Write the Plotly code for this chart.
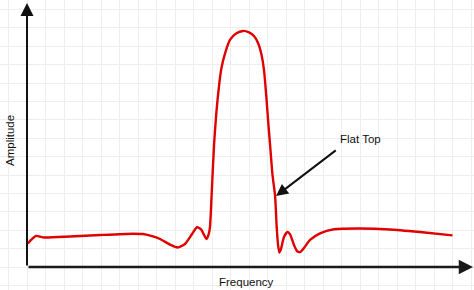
import plotly.graph_objects as go

# Frequency response (arbitrary units; 1 unit = one grid square)
frequency = [0.05, 0.22, 0.49, 0.87, 2.32, 3.95, 5.73, 6.27, 6.81, 7.19, 7.73, 8.14,
             8.54, 8.92, 9.19, 9.41, 9.57, 9.71, 9.81, 9.89, 9.98, 10.11, 10.30, 10.51,
             10.73, 10.97, 11.30, 11.68, 12.00, 12.27, 12.51, 12.68, 12.81, 12.95, 13.05,
             13.14, 13.27, 13.41, 13.50, 13.57, 13.64, 13.73, 13.89, 14.08, 14.22, 14.43,
             14.62, 14.78, 14.97, 15.30, 15.84, 16.60, 18.00, 19.62, 21.24, 23.00]
amplitude = [1.28, 1.47, 1.69, 1.61, 1.66, 1.74, 1.81, 1.79, 1.66, 1.52, 1.22, 1.06,
             1.25, 1.79, 2.16, 2.04, 1.74, 1.52, 1.74, 2.17, 3.91, 6.63, 9.08, 10.82,
             11.69, 12.34, 12.69, 12.83, 12.75, 12.55, 12.12, 11.52, 10.71, 9.08, 7.72,
             6.63, 5.00, 3.86, 2.12, 1.20, 0.78, 0.98, 1.63, 1.90, 1.77, 1.20,
             0.84, 0.82, 1.03, 1.47, 1.83, 2.05, 2.09, 2.04, 1.90, 1.72]

x_label = "Frequency"
y_label = "Amplitude"
note_text = "Flat Top"
note_tip = (13.46, 3.86)
note_tail = (16.77, 6.40)
note_pos = (18.03, 6.96)
x_end = 24.11
y_end = 14.35

W, H = 474, 290
fig = go.Figure()
fig.add_trace(go.Scatter(x=frequency, y=amplitude, mode="lines",
                         line=dict(color="#e00000", width=2.4, shape="spline", smoothing=0.6),
                         hoverinfo="skip", showlegend=False))

grid = "#eeeeee"
fig.update_layout(
    width=W, height=H, margin=dict(l=0, r=0, t=0, b=0),
    paper_bgcolor="white", plot_bgcolor="white",
    font=dict(family="Liberation Sans, Arial", color="#111111", size=11),
    xaxis=dict(range=[-27/18.5, 447/18.5], showgrid=True, gridcolor=grid, gridwidth=1,
               dtick=1, tick0=0, showticklabels=False, zeroline=False, ticks="", fixedrange=True),
    yaxis=dict(range=[-23/18.4, 267/18.4], showgrid=True, gridcolor=grid, gridwidth=1,
               dtick=1, tick0=0, showticklabels=False, zeroline=False, ticks="", fixedrange=True),
    showlegend=False,
)

annots = [
    dict(x=0, y=y_end, ax=0, ay=0, xref="x", yref="y", axref="x", ayref="y", text="",
         showarrow=True, arrowhead=2, arrowsize=1.3, arrowwidth=2, arrowcolor="#111111", standoff=0),
    dict(x=x_end, y=0, ax=0, ay=0, xref="x", yref="y", axref="x", ayref="y", text="",
         showarrow=True, arrowhead=2, arrowsize=1.1, arrowwidth=2.6, arrowcolor="#1a1a1a", standoff=0),
    dict(x=note_tip[0], y=note_tip[1], ax=note_tail[0], ay=note_tail[1], xref="x", yref="y",
         axref="x", ayref="y", text="", showarrow=True, arrowhead=2, arrowsize=1.2,
         arrowwidth=2, arrowcolor="#111111", standoff=0),
    dict(x=note_pos[0], y=note_pos[1], xref="x", yref="y", text=note_text, showarrow=False,
         xanchor="center", yanchor="middle", font=dict(size=11.5)),
    dict(x=10/W, y=1-141/H, xref="paper", yref="paper", text=y_label, showarrow=False,
         textangle=-90, xanchor="center", yanchor="middle", font=dict(size=11.5)),
    dict(x=247/W, y=1-281.5/H, xref="paper", yref="paper", text=x_label, showarrow=False,
         xanchor="center", yanchor="middle", font=dict(size=11.5)),
]
fig.update_layout(annotations=annots)
fig.write_html("out.html")
